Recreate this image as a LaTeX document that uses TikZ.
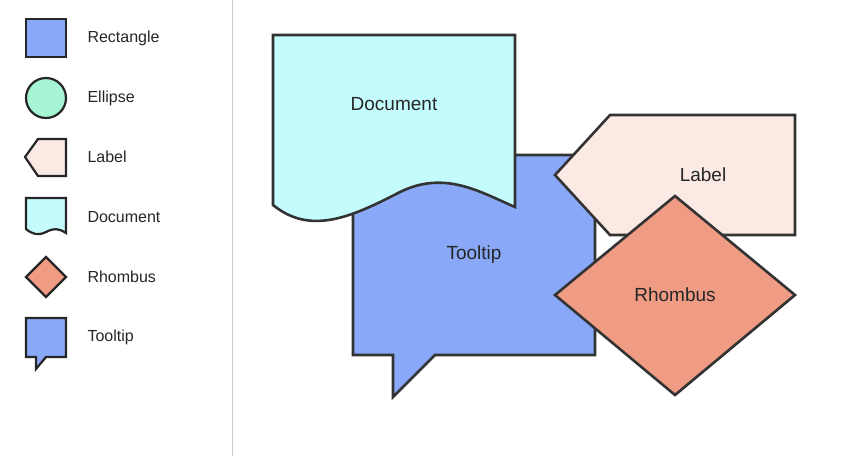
\documentclass[tikz,border=0pt]{standalone}
\usepackage{fontspec}
\setmainfont{Liberation Sans}
\begin{document}
\begin{tikzpicture}[x=1pt,y=-1pt,
 shp/.style={draw=black!80,line width=2.6pt,line join=miter},
 ishp/.style={draw=black!85,line width=2.2pt},
 lbl/.style={font=\fontsize{16}{18}\selectfont,text=black!85,anchor=west},
 big/.style={font=\fontsize{19}{22}\selectfont,text=black!85}]
\definecolor{cblue}{HTML}{89A9F8}
\definecolor{cmint}{HTML}{A6F5D5}
\definecolor{cpink}{HTML}{FBE9E4}
\definecolor{ccyan}{HTML}{C4FBFD}
\definecolor{csal}{HTML}{F09C84}
\useasboundingbox (0,0) rectangle (850,456);
\draw[black!20,line width=1pt] (232,0) -- (232,456);
% legend
\draw[ishp,fill=cblue] (26,19) rectangle (66,57);
\node[lbl] (t1) at (84,38) {Rectangle};
\draw[ishp,fill=cmint] (46,98) circle (20);
\node[lbl] (t2) at (84,98) {Ellipse};
\draw[ishp,fill=cpink] (25,157) -- (38,139) -- (66,139) -- (66,176) -- (38,176) -- cycle;
\node[lbl] (t3) at (84,157) {Label};
\draw[ishp,fill=ccyan] (26,198) -- (66,198) -- (66,233) .. controls (58,228) and (54,228) .. (46,232) .. controls (38,236) and (32,234) .. (26,229) -- cycle;
\node[lbl] (t4) at (84,217) {Document};
\draw[ishp,fill=csal] (46,257) -- (66,277) -- (46,297) -- (26,277) -- cycle;
\node[lbl] (t5) at (84,277) {Rhombus};
\draw[ishp,fill=cblue] (26,318) -- (66,318) -- (66,357) -- (46,357) -- (36,369) -- (36,357) -- (26,357) -- cycle;
\node[lbl] (t6) at (84,337) {Tooltip};
% main
\draw[shp,fill=cblue] (353,155) -- (595,155) -- (595,355) -- (435,355) -- (393,397) -- (393,355) -- (353,355) -- cycle;
\node[big] (tt) at (474,255) {Tooltip};
\draw[shp,fill=ccyan] (273,35) -- (515,35) -- (515,207) .. controls (480,192) and (445,170) .. (400,192) .. controls (350,218) and (310,235) .. (273,205) -- cycle;
\node[big] (dd) at (394,104) {Document};
\draw[shp,fill=cpink] (555,175) -- (610,115) -- (795,115) -- (795,235) -- (610,235) -- cycle;
\node[big] (ll) at (703,175) {Label};
\draw[shp,fill=csal] (555,295) -- (675,196) -- (795,295) -- (675,395) -- cycle;
\node[big] (rr) at (675,295) {Rhombus};
\end{tikzpicture}
\end{document}
